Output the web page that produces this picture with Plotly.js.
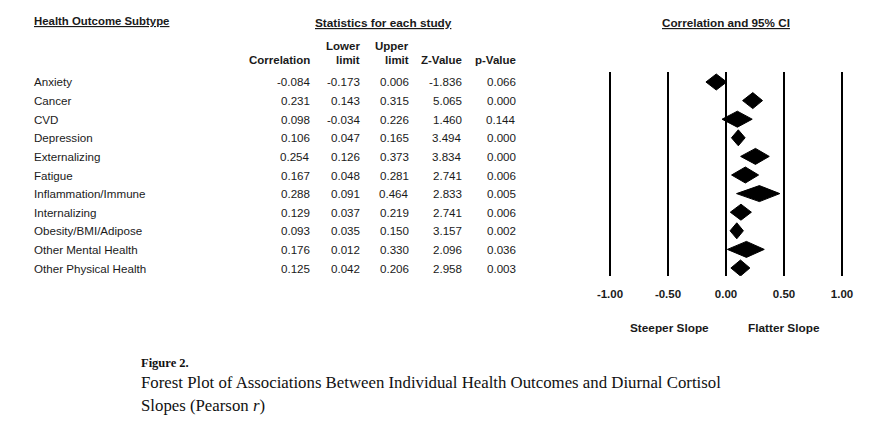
<!DOCTYPE html>
<html>
<head>
<meta charset="utf-8">
<script src="https://cdn.plot.ly/plotly-3.0.1.min.js"></script>
<style>html,body{margin:0;padding:0;background:#fff;}#chart{width:888px;height:429px;}</style>
</head>
<body>
<div id="chart"></div>
<script>
// ---- data ----
const subtypes = ["Anxiety","Cancer","CVD","Depression","Externalizing","Fatigue",
  "Inflammation/Immune","Internalizing","Obesity/BMI/Adipose","Other Mental Health","Other Physical Health"];
const correlation = [-0.084,0.231,0.098,0.106,0.254,0.167,0.288,0.129,0.093,0.176,0.125];
const lowerLimit  = [-0.173,0.143,-0.034,0.047,0.126,0.048,0.091,0.037,0.035,0.012,0.042];
const upperLimit  = [0.006,0.315,0.226,0.165,0.373,0.281,0.464,0.219,0.150,0.330,0.206];
const zValue      = [-1.836,5.065,1.460,3.494,3.834,2.741,2.833,2.741,3.157,2.096,2.958];
const pValue      = [0.066,0.000,0.144,0.000,0.000,0.006,0.005,0.006,0.002,0.036,0.003];
const tickVals    = [-1,-0.5,0,0.5,1];
const tickLabels  = ["-1.00","-0.50","0.00","0.50","1.00"];

// ---- layout helpers ----
const W = 888, H = 429;
const px = v => v / W;
const py = v => 1 - v / H;
const sans = "Liberation Sans, Arial, sans-serif";
const serif = "Liberation Serif, Times New Roman, serif";
const txt = "#1a1a1a";
const fs = 11.6;

// diamonds (one trace, segments separated by gaps)
const half = 0.43;
const dx = [], dy = [];
subtypes.forEach((s, i) => {
  dx.push(lowerLimit[i], correlation[i], upperLimit[i], correlation[i], lowerLimit[i], null);
  dy.push(i, i - half, i, i + half, i, null);
});
const diamonds = {
  type: "scatter", mode: "lines", x: dx, y: dy,
  fill: "toself", fillcolor: "#000", line: {color: "#000", width: 1},
  hoverinfo: "skip", showlegend: false
};

const ann = [];
function A(o) { ann.push(Object.assign({showarrow: false, font: {family: sans, size: fs, color: txt}}, o)); }

// header texts
A({text: "<b><u>Health Outcome Subtype</u></b>", x: px(32), y: py(21), xref: "paper", yref: "paper", xanchor: "left", yanchor: "middle", font: {family: sans, size: 11.4, color: txt}});
A({text: "<b><u>Statistics for each study</u></b>", x: px(383), y: py(23), xref: "paper", yref: "paper", xanchor: "center", yanchor: "middle", font: {family: sans, size: 11.8, color: txt}});
A({text: "<b><u>Correlation and 95% CI</u></b>", x: px(726), y: py(22), xref: "paper", yref: "paper", xanchor: "center", yanchor: "middle", font: {family: sans, size: 11.7, color: txt}});

const colRight = [312, 362, 411, 464, 518];
const colHead = [["", "Correlation"], ["Lower", "limit"], ["Upper", "limit"], ["", "Z-Value"], ["", "p-Value"]];
colHead.forEach((h, c) => {
  if (h[0]) A({text: "<b>" + h[0] + "</b>", x: px(colRight[c]), y: py(46), xref: "paper", yref: "paper", xanchor: "right", yanchor: "middle", font: {family: sans, size: 11.5, color: txt}});
  A({text: "<b>" + h[1] + "</b>", x: px(colRight[c]), y: py(59.5), xref: "paper", yref: "paper", xanchor: "right", yanchor: "middle", font: {family: sans, size: 11.5, color: txt}});
});

const cols = [correlation, lowerLimit, upperLimit, zValue, pValue];
subtypes.forEach((s, i) => {
  A({text: s, x: px(32), y: i, xref: "paper", yref: "y", xanchor: "left", yanchor: "middle"});
  cols.forEach((arr, c) => {
    A({text: arr[i].toFixed(3), x: px(colRight[c]), y: i, xref: "paper", yref: "y", xanchor: "right", yanchor: "middle"});
  });
});

// slope labels
A({text: "<b>Steeper Slope</b>", x: px(669), y: py(328), xref: "paper", yref: "paper", xanchor: "center", yanchor: "middle", font: {family: sans, size: 11.8, color: txt}});
A({text: "<b>Flatter Slope</b>", x: px(784), y: py(328), xref: "paper", yref: "paper", xanchor: "center", yanchor: "middle", font: {family: sans, size: 11.8, color: txt}});

// caption
A({text: "<b>Figure 2.</b>", x: px(139), y: py(363), xref: "paper", yref: "paper", xanchor: "left", yanchor: "middle", font: {family: serif, size: 12.5, color: "#111"}});
A({text: "Forest Plot of Associations Between Individual Health Outcomes and Diurnal Cortisol", x: px(139), y: py(382), xref: "paper", yref: "paper", xanchor: "left", yanchor: "middle", font: {family: serif, size: 16.8, color: "#111"}});
A({text: "Slopes (Pearson <i>r</i>)", x: px(139), y: py(405), xref: "paper", yref: "paper", xanchor: "left", yanchor: "middle", font: {family: serif, size: 16.8, color: "#111"}});

const unit = (842 - 610) / 2;
const xr = [-1.05, 1.05];
const layout = {
  width: W, height: H,
  margin: {l: 0, r: 0, t: 0, b: 0},
  paper_bgcolor: "#fff", plot_bgcolor: "#fff",
  showlegend: false,
  xaxis: {
    domain: [px(610 - 0.05 * unit), px(842 + 0.05 * unit)],
    range: xr, fixedrange: true,
    tickvals: tickVals, ticktext: tickLabels,
    showgrid: true, gridcolor: "#000", gridwidth: 2,
    zeroline: false, showline: false, ticks: "",
    ticklabelstandoff: 9,
    tickfont: {family: sans, size: 11.5, color: txt, weight: "bold"}
  },
  yaxis: {
    domain: [py(276), py(72)],
    range: [(276 - 82) / 18.6, (72 - 82) / 18.6],
    showgrid: false, zeroline: false, showline: false, showticklabels: false, ticks: "",
    fixedrange: true
  },
  annotations: ann
};

Plotly.newPlot("chart", [diamonds], layout, {displayModeBar: false, staticPlot: true});
</script>
</body>
</html>
